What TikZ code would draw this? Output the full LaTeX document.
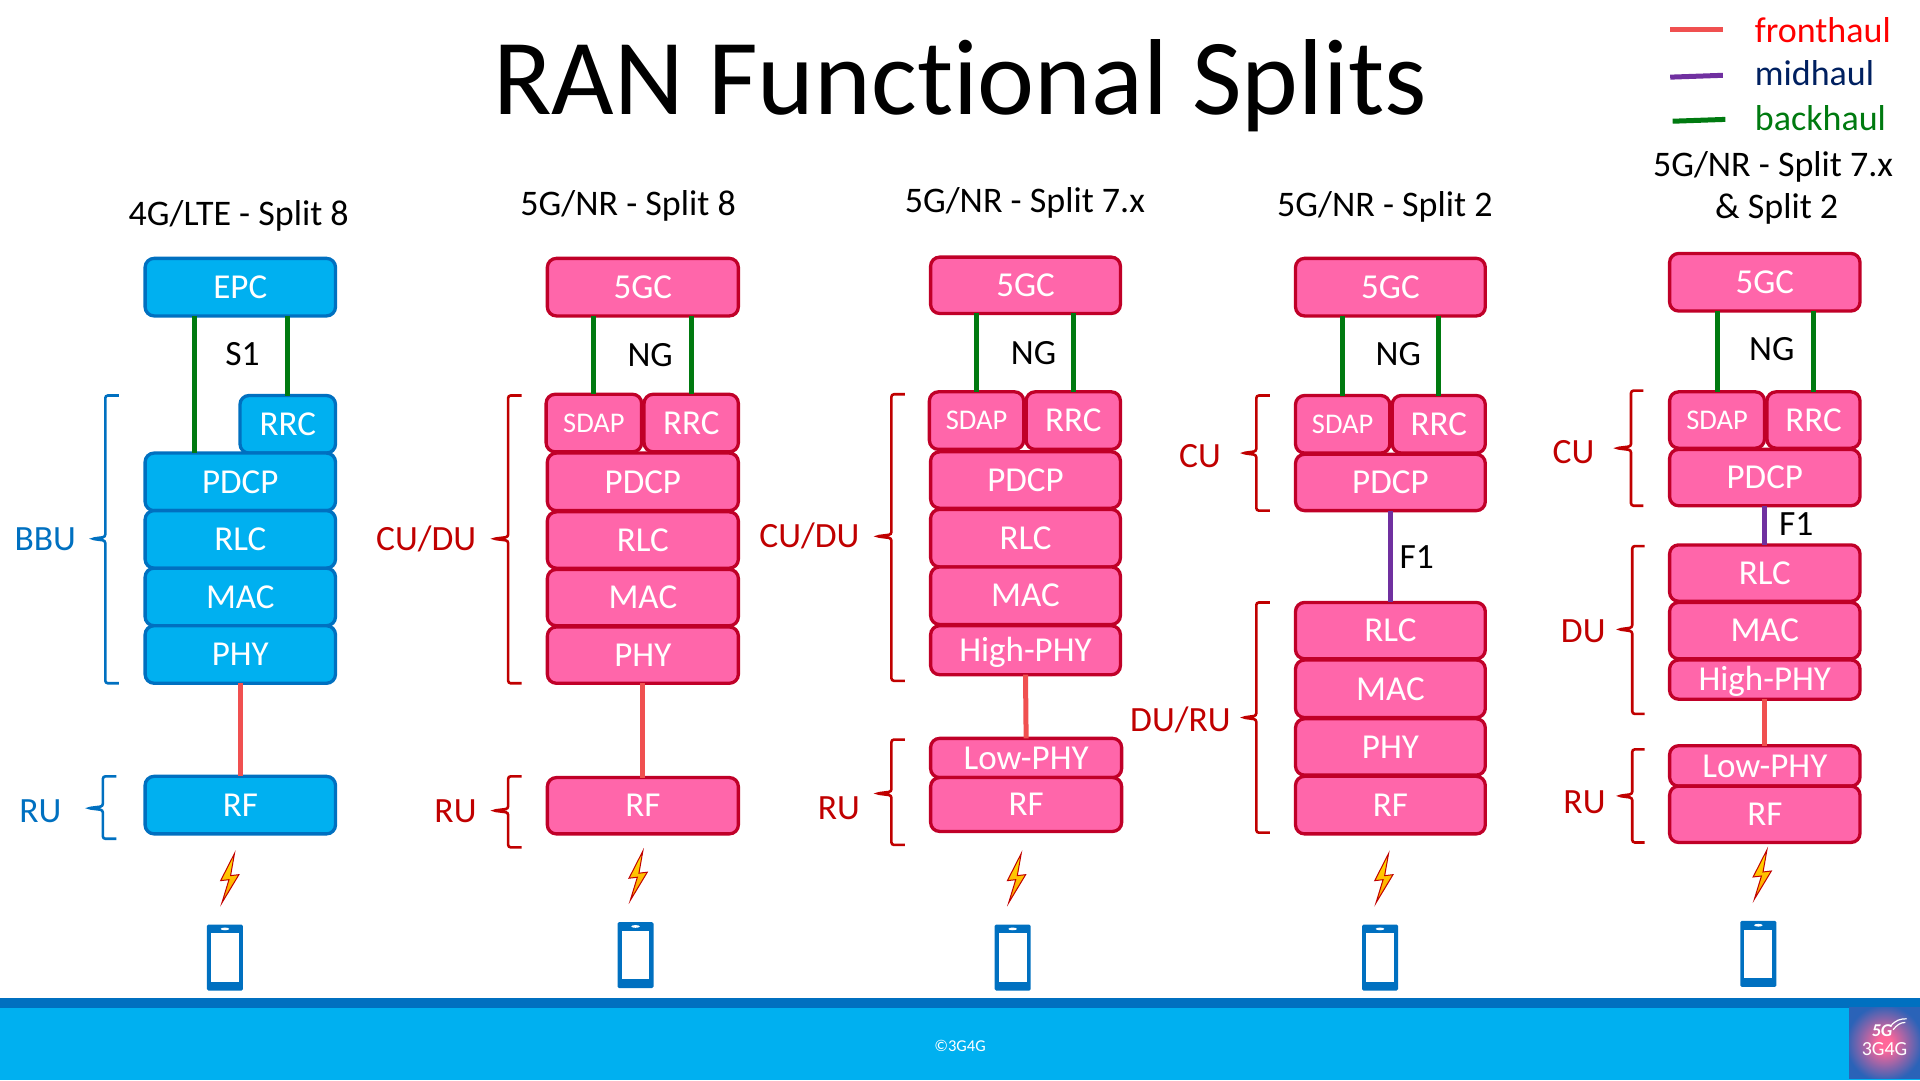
\documentclass[tikz,border=0pt]{standalone}
\usepackage{fontspec}
\setmainfont[Ligatures=NoCommon]{Carlito}
\usetikzlibrary{calc}
\definecolor{bluefill}{HTML}{00B0F0}
\definecolor{blueedge}{HTML}{0070C0}
\definecolor{pinkfill}{HTML}{FF66AA}
\definecolor{pinkedge}{HTML}{C00028}
\definecolor{labred}{HTML}{C00000}
\definecolor{fh}{HTML}{F05050}
\definecolor{mh}{HTML}{7030A0}
\definecolor{bh}{HTML}{007A10}
\definecolor{navy}{HTML}{002060}
\definecolor{logopink}{HTML}{FF6699}
\definecolor{logoblue}{HTML}{2A63B8}
\pgfdeclareradialshading{logoshade}{\pgfpoint{0bp}{0bp}}{color(0bp)=(logopink); color(5bp)=(logopink); color(27bp)=(logoblue); color(100bp)=(logoblue)}
\tikzset{
  x=1.2245pt,y=-1.2245pt,
  boxbase/.style={rounded corners=9pt,line width=3.3pt,inner sep=0pt,outer sep=0pt,text=white,align=center,font=\fontsize{35}{35}\selectfont,text height=22.5pt,text depth=0pt},
  bluebox/.style={boxbase,draw=blueedge,fill=bluefill},
  pinkbox/.style={boxbase,draw=pinkedge,fill=pinkfill},
  smalltext/.style={font=\fontsize{28.5}{28.5}\selectfont,text height=18pt},
  lab/.style={inner sep=0pt,font=\fontsize{35.5}{35.5}\selectfont,text height=23pt,text depth=0pt},
  coltitle/.style={inner sep=0pt,font=\fontsize{36}{36}\selectfont,text=black,text height=24pt,text depth=0pt},
  title/.style={inner sep=0pt,font=\fontsize{108}{108}\selectfont,text=black,text height=70pt,text depth=0pt},
  legendtext/.style={inner sep=0pt,anchor=west,font=\fontsize{36}{36}\selectfont,text height=24pt,text depth=0pt},
  fronthaul/.style={draw=fh,line width=5pt},
  midhaul/.style={draw=mh,line width=5pt},
  backhaul/.style={draw=bh,line width=5pt},
  brblue/.style={draw=blueedge,line width=2.6pt,rounded corners=2.5pt},
  brred/.style={draw=labred,line width=2.6pt,rounded corners=2.5pt},
  bolt/.pic={
    \path[draw=labred,line width=1pt,line join=miter,top color=yellow!80!orange,bottom color=orange!80!yellow]
      (4,-20) -- (-7.3,2.2) -- (-.5,1.4) -- (-6.3,20.4) -- (7.6,-2.7) -- (.8,-1.9) -- cycle;
  },
  phone/.pic={
    \fill[blueedge,rounded corners=1.5pt] (-14.7,-27) rectangle (14.7,27);
    \fill[white] (-11.4,-19.7) rectangle (11.4,19.7);
    \fill[white] (0,-23.4) ellipse [x radius=3.5,y radius=1.1];
  },
}
\newcommand\blockbox[7]{\node[#1,minimum width={(#5-#3)*1.2245pt},minimum height={(#6-#4)*1.2245pt}] (#2) at ({(#3+#5)/2},{(#4+#6)/2}) {#7};}
% style, open x, spine x, tip x, top y, mid y, bottom y
\newcommand\lbrc[7]{\draw[#1] (#2,#5) -- (#3,#5) -- (#3,#6-1.5) -- (#4,#6) -- (#3,#6+1.5) -- (#3,#7) -- (#2,#7);}
\begin{document}
\begin{tikzpicture}
\useasboundingbox (0,0) rectangle (1568,882);
% footer
\fill[bluefill] (0,823) rectangle (1568,882);
\fill[blueedge] (0,815) rectangle (1568,823);
\node[inner sep=0pt,text=white,font=\fontsize{16.5}{16.5}\selectfont] (copy) at (784,854.5) {©3G4G};
\shade[shading=logoshade] (1510,823) rectangle (1568,881);
\node[inner sep=0pt,text=white,font=\fontsize{18}{18}\selectfont\bfseries\itshape] (logo5g) at (1537,842) {5G};
\node[inner sep=0pt,text=white,font=\fontsize{20}{20}\selectfont] (logo3g) at (1539,857) {3G4G};
\draw[white,line width=1.2pt] (1544,838) .. controls (1548,833) and (1552,832) .. (1557,832);
\draw[white,line width=1.2pt] (1546,841) .. controls (1549,837) and (1552,835) .. (1556,835);
% title
\node[title] (ttl) at (784,65) {RAN Functional Splits};
% legend
\coordinate (lf1) at (1364,24); \coordinate (lf2) at (1407,24);
\coordinate (lm1) at (1364,63); \coordinate (lm2) at (1407,61.5);
\coordinate (lb1) at (1366,99); \coordinate (lb2) at (1409,97.5);
\draw[fronthaul] (lf1) -- (lf2);
\draw[midhaul] (lm1) -- (lm2);
\draw[backhaul] (lb1) -- (lb2);
\node[legendtext,text=red] (tf) at (1433,25) {fronthaul};
\node[legendtext,text=navy] (tm) at (1433,60) {midhaul};
\node[legendtext,text=bh] (tb) at (1433,97) {backhaul};
% column titles
\node[coltitle] (c1) at (195,174) {4G/LTE - Split 8};
\node[coltitle] (c2) at (513,166) {5G/NR - Split 8};
\node[coltitle] (c3) at (837,164) {5G/NR - Split 7.x};
\node[coltitle] (c4) at (1131,167) {5G/NR - Split 2};
\node[coltitle] (c5a) at (1448,134) {5G/NR - Split 7.x};
\node[coltitle] (c5b) at (1451,169) {\& Split 2};
% column 1
\blockbox{bluebox}{a5gc}{118.5}{211}{274}{258}{EPC}
\blockbox{bluebox}{arrc}{196}{323}{274}{370}{RRC}
\blockbox{bluebox}{apdcp}{118.5}{370}{274}{417}{PDCP}
\blockbox{bluebox}{arlc}{118.5}{417}{274}{464}{RLC}
\blockbox{bluebox}{amac}{118.5}{464}{274}{511}{MAC}
\blockbox{bluebox}{aphy}{118.5}{511}{274}{558}{PHY}
\blockbox{bluebox}{arf}{118.5}{634}{274}{681}{RF}
\draw[backhaul] ([xshift=-45.6pt]a5gc.south) -- ([xshift=-45.6pt]apdcp.north);
\draw[backhaul] (arrc.north |- a5gc.south) -- (arrc.north);
\draw[fronthaul] (aphy.south) -- (arf.north);
\node[lab,text=black] (as1) at (198,289) {S1};
\node[lab,text=blueedge] (abbu) at (37,440) {BBU};
\node[lab,text=blueedge] (aru) at (33,662) {RU};
\lbrc{brblue}{97}{86}{75}{323}{440}{558}
\lbrc{brblue}{95}{84}{72}{634}{660}{685}
\pic at (187.5,717) {bolt};
\pic at (183.7,782) {phone};
% column 2
\blockbox{pinkbox}{b5gc}{447}{211}{603}{258}{5GC}
\blockbox{pinkbox,smalltext}{bsdap}{446}{322}{524}{369}{SDAP}
\blockbox{pinkbox}{brrc}{526}{322}{603}{369}{RRC}
\blockbox{pinkbox}{bpdcp}{447}{370}{603}{417}{PDCP}
\blockbox{pinkbox}{brlc}{447}{418}{603}{464}{RLC}
\blockbox{pinkbox}{bmac}{447}{465}{603}{511}{MAC}
\blockbox{pinkbox}{bphy}{447}{512}{603}{558}{PHY}
\blockbox{pinkbox}{brf}{447}{635}{603}{681}{RF}
\draw[backhaul] (bsdap.north |- b5gc.south) -- (bsdap.north);
\draw[backhaul] (brrc.north |- b5gc.south) -- (brrc.north);
\draw[fronthaul] (bphy.south) -- (brf.north);
\node[lab,text=black] (bng) at (531,290) {NG};
\node[lab,text=labred] (bcu) at (348,440) {CU/DU};
\node[lab,text=labred] (bru) at (372,662) {RU};
\lbrc{brred}{426}{415}{403}{323}{440}{558}
\lbrc{brred}{426}{415}{403}{634}{662}{692}
\pic at (521,715) {bolt};
\pic at (519,780) {phone};
% column 3
\blockbox{pinkbox}{c5gc}{760}{210}{915}{256}{5GC}
\blockbox{pinkbox,smalltext}{csdap}{759}{320}{836}{367}{SDAP}
\blockbox{pinkbox}{crrc}{838}{320}{915}{367}{RRC}
\blockbox{pinkbox}{cpdcp}{760}{369}{915}{415}{PDCP}
\blockbox{pinkbox}{crlc}{760}{416}{915}{463}{RLC}
\blockbox{pinkbox}{cmac}{760}{463}{915}{510}{MAC}
\blockbox{pinkbox}{chphy}{760}{511}{915}{551}{High-PHY}
\blockbox{pinkbox}{clphy}{760}{603}{916}{635}{Low-PHY}
\blockbox{pinkbox}{crf}{760}{635}{916}{679}{RF}
\draw[backhaul] (csdap.north |- c5gc.south) -- (csdap.north);
\draw[backhaul] (crrc.north |- c5gc.south) -- (crrc.north);
\draw[fronthaul] (chphy.south) -- (clphy.north);
\node[lab,text=black] (cng) at (844,288) {NG};
\node[lab,text=labred] (ccu) at (661,438) {CU/DU};
\node[lab,text=labred] (cru) at (685,660) {RU};
\lbrc{brred}{739}{728}{716}{322}{438}{556}
\lbrc{brred}{739}{728}{716}{604}{648}{690}
\pic at (830,717) {bolt};
\pic at (827,782) {phone};
% column 4
\blockbox{pinkbox}{d5gc}{1058}{211}{1213}{258}{5GC}
\blockbox{pinkbox,smalltext}{dsdap}{1058}{323}{1135}{370}{SDAP}
\blockbox{pinkbox}{drrc}{1137}{323}{1213}{370}{RRC}
\blockbox{pinkbox}{dpdcp}{1058}{371}{1213}{417}{PDCP}
\blockbox{pinkbox}{drlc}{1058}{492}{1213}{538}{RLC}
\blockbox{pinkbox}{dmac}{1058}{539}{1213}{586}{MAC}
\blockbox{pinkbox}{dphy}{1058}{587}{1213}{633}{PHY}
\blockbox{pinkbox}{drf}{1058}{634}{1213}{681}{RF}
\draw[backhaul] (dsdap.north |- d5gc.south) -- (dsdap.north);
\draw[backhaul] (drrc.north |- d5gc.south) -- (drrc.north);
\draw[midhaul] (dpdcp.south) -- (drlc.north);
\node[lab,text=black] (dng) at (1142,289) {NG};
\node[lab,text=black] (df1) at (1157,455) {F1};
\node[lab,text=labred] (dcu) at (980,372) {CU};
\node[lab,text=labred] (ddu) at (964,588) {DU/RU};
\lbrc{brred}{1037}{1026}{1015}{323}{370}{417}
\lbrc{brred}{1037}{1026}{1015}{492}{586}{680}
\pic at (1130,717) {bolt};
\pic at (1127,782) {phone};
% column 5
\blockbox{pinkbox}{e5gc}{1363.5}{207}{1519}{254}{5GC}
\blockbox{pinkbox,smalltext}{esdap}{1363.5}{320}{1441}{366}{SDAP}
\blockbox{pinkbox}{errc}{1443}{320}{1519}{366}{RRC}
\blockbox{pinkbox}{epdcp}{1363.5}{367}{1519}{413}{PDCP}
\blockbox{pinkbox}{erlc}{1363.5}{445}{1519}{491}{RLC}
\blockbox{pinkbox}{emac}{1363.5}{492}{1519}{538}{MAC}
\blockbox{pinkbox}{ehphy}{1363.5}{539}{1519}{571}{High-PHY}
\blockbox{pinkbox}{elphy}{1363.5}{609}{1519}{642}{Low-PHY}
\blockbox{pinkbox}{erf}{1363.5}{642}{1519}{688}{RF}
\draw[backhaul] (esdap.north |- e5gc.south) -- (esdap.north);
\draw[backhaul] (errc.north |- e5gc.south) -- (errc.north);
\draw[midhaul] (epdcp.south) -- (erlc.north);
\draw[fronthaul] (ehphy.south) -- (elphy.north);
\node[lab,text=black] (eng) at (1447,285) {NG};
\node[lab,text=black] (ef1) at (1467,428) {F1};
\node[lab,text=labred] (ecu) at (1285,369) {CU};
\node[lab,text=labred] (edu) at (1293,515) {DU};
\node[lab,text=labred] (eru) at (1294,655) {RU};
\lbrc{brred}{1342}{1332}{1320}{319}{366}{413}
\lbrc{brred}{1343}{1333}{1322}{446}{514}{583}
\lbrc{brred}{1343}{1333}{1322}{612}{650}{688}
\pic at (1439,714) {bolt};
\pic at (1436,779) {phone};
\end{tikzpicture}
\end{document}
